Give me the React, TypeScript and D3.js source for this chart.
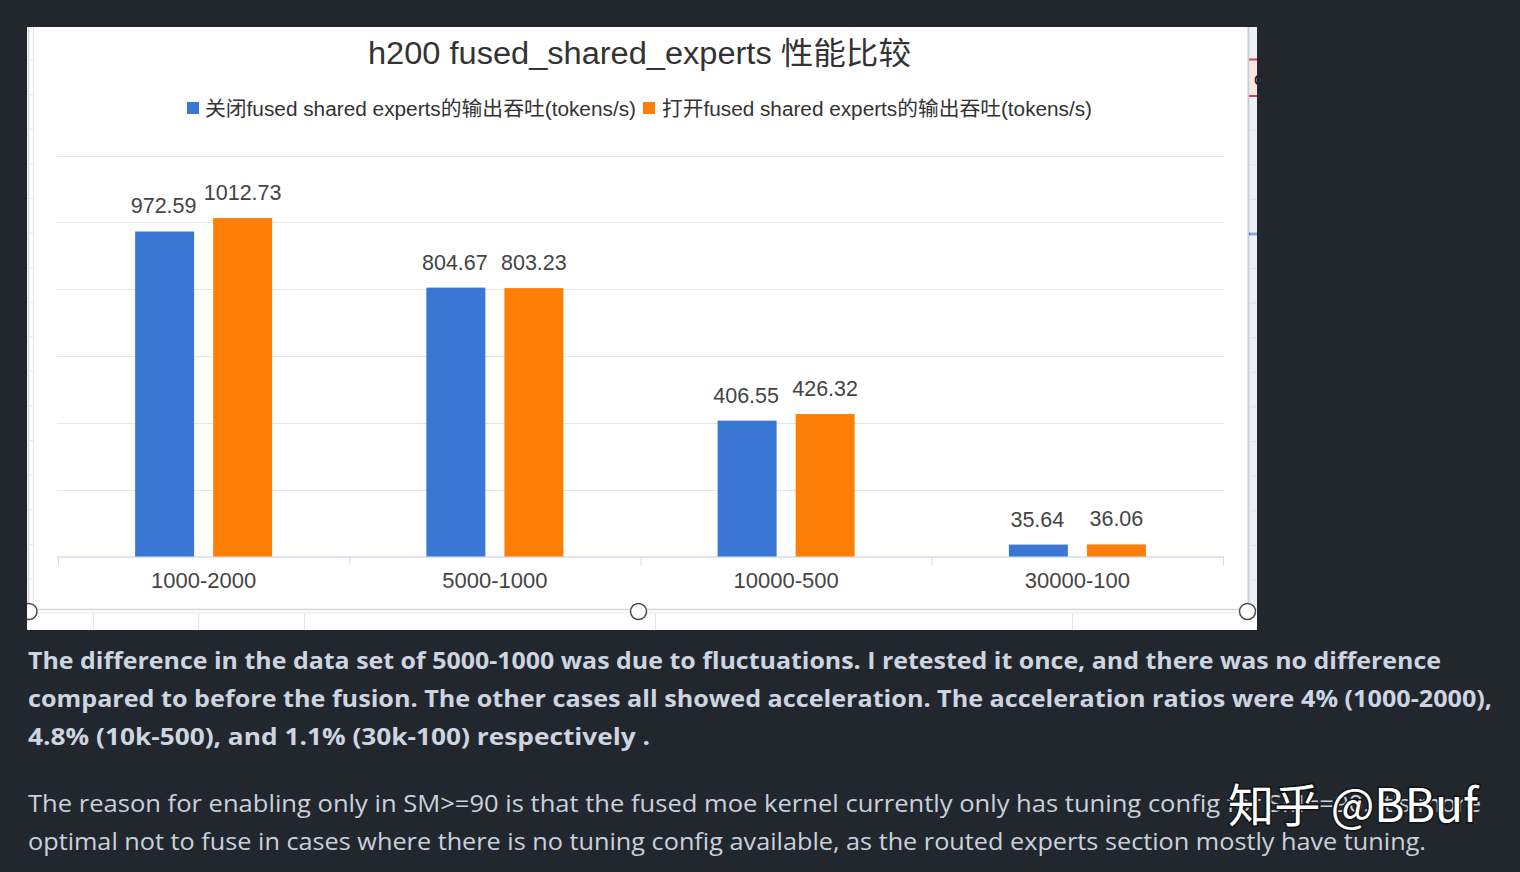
import React from "react";
import * as d3 from "d3";

const categories = ["1000-2000", "5000-1000", "10000-500", "30000-100"];
const seriesNames = [
  "关闭fused shared experts的输出吞吐(tokens/s)",
  "打开fused shared experts的输出吞吐(tokens/s)",
];
const offValues = [972.59, 804.67, 406.55, 35.64];
const onValues = [1012.73, 803.23, 426.32, 36.06];
const yTicks = [0, 200, 400, 600, 800, 1000, 1200];
const title = "h200 fused_shared_experts 性能比较";
const colors = ["#3a76d4", "#fd7f07"];

const paragraphBold = [
  "The difference in the data set of 5000-1000 was due to fluctuations. I retested it once, and there was no difference",
  "compared to before the fusion. The other cases all showed acceleration. The acceleration ratios were 4% (1000-2000),",
  "4.8% (10k-500), and 1.1% (30k-100) respectively .",
];
const paragraphRegular = [
  "The reason for enabling only in SM>=90 is that the fused moe kernel currently only has tuning config for SM==90. It's more",
  "optimal not to fuse in cases where there is no tuning config available, as the routed experts section mostly have tuning.",
];
const boldWidths = [1413, 1464, 622];
const regularWidths = [1453, 1398];

const FONT = "'Liberation Sans', Arial, 'Noto Sans CJK SC', sans-serif";
const PFONT = "'Open Sans', 'Liberation Sans', sans-serif";

export default function App() {
  const W = 1520;
  const H = 872;
  const x0 = d3.scaleBand<string>().domain(categories).range([58, 1223]).paddingInner(0).paddingOuter(0);
  const x1 = d3.scaleBand<number>().domain([0, 1]).range([0, 137]).paddingInner(0.244);
  const inner = (x0.bandwidth() - 137) / 2;
  const y = d3.scaleLinear().domain([0, 1200]).range([556.5, 155.5]);
  const series = [offValues, onValues];
  const rowTicks = d3.range(60, 600, 34.6);

  return (
    <svg width={W} height={H} style={{ position: "absolute", left: 0, top: 0 }}>
      <rect x={0} y={0} width={W} height={H} fill="#22272e" />
      {/* chart panel */}
      <rect x={27} y={27} width={1230} height={603} fill="#ffffff" />
      {/* spreadsheet decorations */}
      <line x1={28.5} x2={28.5} y1={27} y2={611} stroke="#d0d3d8" strokeWidth={1.5} />
      <line x1={33.5} x2={33.5} y1={27} y2={611} stroke="#e3e5e8" strokeWidth={1} />
      {rowTicks.map((t, i) => (
        <line key={"rl" + i} x1={27} x2={33} y1={t} y2={t} stroke="#e4e6ea" strokeWidth={1} />
      ))}
      <rect x={1250} y={27} width={7} height={583} fill="#eceff8" />
      <rect x={1250} y={59} width={7} height={37} fill="#fbe6e7" />
      <line x1={1248.5} x2={1248.5} y1={27} y2={611} stroke="#c9ccd1" strokeWidth={2} />
      <line x1={1249} x2={1257} y1={59.5} y2={59.5} stroke="#c84a4a" strokeWidth={2} />
      <line x1={1249} x2={1257} y1={96} y2={96} stroke="#c84a4a" strokeWidth={2} />
      <line x1={1249} x2={1257} y1={234} y2={234} stroke="#3a6fd0" strokeWidth={2.5} />
      {rowTicks.slice(2).map((t, i) => (
        <line key={"rr" + i} x1={1250} x2={1257} y1={t + 1} y2={t + 1} stroke="#dfe1e6" strokeWidth={1} />
      ))}
      <text x={1254} y={85} fontFamily={FONT} fontSize={18} fill="#111">c</text>
      <rect x={1257} y={27} width={263} height={603} fill="#22272e" />
      {[93.5, 198.5, 304.5, 655.5, 1072.5].map((vx, i) => (
        <line key={"vc" + i} x1={vx} x2={vx} y1={613} y2={630} stroke="#e3e5e8" strokeWidth={1} />
      ))}
      <line x1={27} x2={1257} y1={609.5} y2={609.5} stroke="#d4d6da" strokeWidth={1.5} />
      <line x1={27} x2={1257} y1={613} y2={613} stroke="#e6e7ea" strokeWidth={1} />

      {/* title */}
      <text x={368} y={64} fontFamily={FONT} fontSize={31} fill="#333333" textLength={543} lengthAdjust="spacingAndGlyphs">
        {title}
      </text>
      {/* legend */}
      <rect x={187} y={102} width={12} height={12} fill={colors[0]} />
      <text x={205} y={116} fontFamily={FONT} fontSize={20} fill="#333333" textLength={431} lengthAdjust="spacingAndGlyphs">
        {seriesNames[0]}
      </text>
      <rect x={643} y={102} width={12} height={12} fill={colors[1]} />
      <text x={662} y={116} fontFamily={FONT} fontSize={20} fill="#333333" textLength={430} lengthAdjust="spacingAndGlyphs">
        {seriesNames[1]}
      </text>

      {/* gridlines */}
      {yTicks.slice(1).map((t) => (
        <line key={"g" + t} x1={57} x2={1224} y1={Math.round(y(t)) + 0.5} y2={Math.round(y(t)) + 0.5} stroke="#e6e6e6" strokeWidth={1} />
      ))}
      {/* x axis */}
      <line x1={57} x2={1224} y1={557} y2={557} stroke="#d5dde8" strokeWidth={1.5} />
      {[...categories.map((c) => x0(c) as number), 1223].map((tx, i) => (
        <line key={"xt" + i} x1={tx + 0.5} x2={tx + 0.5} y1={557} y2={565} stroke="#d5dde8" strokeWidth={1} />
      ))}
      {categories.map((c) => (
        <text key={"cl" + c} x={(x0(c) as number) + x0.bandwidth() / 2} y={588} textAnchor="middle" fontFamily={FONT} fontSize={22} fill="#444444">
          {c}
        </text>
      ))}

      {/* bars */}
      {series.map((vals, si) =>
        vals.map((v, ci) => {
          const bx = (x0(categories[ci]) as number) + inner + (x1(si) as number);
          const by = y(v);
          return (
            <g key={"b" + si + "-" + ci}>
              <rect x={bx} y={by} width={x1.bandwidth()} height={y(0) - by} fill={colors[si]} />
              <text x={bx + x1.bandwidth() / 2 - (si === 0 ? 1 : 0)} y={by - 18} textAnchor="middle" fontFamily={FONT} fontSize={21.5} fill="#444444">
                {v.toFixed(2)}
              </text>
            </g>
          );
        })
      )}

      {/* selection handles */}
      <clipPath id="panelClip">
        <rect x={27} y={27} width={1230} height={603} />
      </clipPath>
      <g clipPath="url(#panelClip)">
        {[29, 638.5, 1247.5].map((hx, i) => (
          <circle key={"h" + i} cx={hx} cy={611.5} r={8} fill="#ffffff" stroke="#4a4a4a" strokeWidth={1.5} />
        ))}
      </g>

      {/* paragraph text */}
      {paragraphBold.map((s, i) => (
        <text key={"pb" + i} x={28} y={669 + i * 38} fontFamily={PFONT} fontWeight={700} fontSize={24} fill="#cdd5e0" textLength={boldWidths[i]} lengthAdjust="spacingAndGlyphs">
          {s}
        </text>
      ))}
      {paragraphRegular.map((s, i) => (
        <text key={"pr" + i} x={28} y={812 + i * 38} fontFamily={PFONT} fontWeight={400} fontSize={24} fill="#c9d1dc" textLength={regularWidths[i]} lengthAdjust="spacingAndGlyphs">
          {s}
        </text>
      ))}
      {/* watermark */}
      <text x={1228} y={822} fontFamily="'Noto Sans CJK SC', sans-serif" fontSize={46} fill="#ffffff" stroke="#111" strokeWidth={3} paintOrder="stroke" textLength={250} lengthAdjust="spacingAndGlyphs">
        知乎 @BBuf
      </text>
    </svg>
  );
}
